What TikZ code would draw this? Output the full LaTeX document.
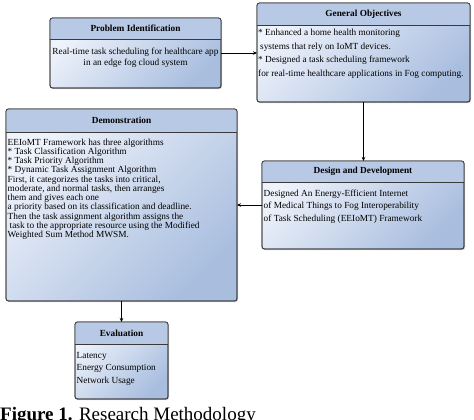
\documentclass[tikz,border=0pt]{standalone}
\usepackage{fontspec}
\setmainfont{Liberation Serif}
\usetikzlibrary{arrows.meta,shadows}
\definecolor{headc}{HTML}{B8C9E6}
\definecolor{bodyA}{HTML}{EFF3FB}
\definecolor{bodyB}{HTML}{A9BEDF}
\definecolor{edgec}{HTML}{3A3A3A}
\tikzset{
  boxsh/.style={draw=edgec, line width=0.8pt, rounded corners=2.5pt,
    top color=bodyA, bottom color=bodyB, shading angle=45,
    drop shadow={shadow xshift=1pt,shadow yshift=-1.2pt,opacity=0.35},
    inner sep=0pt, outer sep=0pt},
  boxline/.style={draw=edgec, line width=0.8pt, rounded corners=2.5pt},
  divline/.style={draw=edgec, line width=0.6pt},
  titlesty/.style={font=\fontsize{9.3}{11}\selectfont\bfseries, inner sep=0pt},
  bodysty/.style={inner sep=0pt, anchor=base west, align=left},
  arr/.style={draw=black, line width=0.55pt, -{Stealth[length=4pt,width=3.5pt]}}
}
% #1 name, #2 left, #3 top, #4 right, #5 bottom, #6 divider y, #7 title
\newcommand{\mkbox}[7]{%
  \node[boxsh, anchor=north west, minimum width={(#4-#2)*1pt}, minimum height={(#5-#3)*1pt}] (#1) at (#2,#3) {};
  \begin{scope}
    \clip[rounded corners=2.5pt] (#2,#3) rectangle (#4,#5);
    \fill[headc] (#2,#3) rectangle (#4,#6);
  \end{scope}
  \draw[boxline] (#2,#3) rectangle (#4,#5);
  \draw[divline] (#2,#6) -- (#4,#6);
  \node[titlesty] (#1-t) at ({(#2+#4)/2},{(#3+#6)/2}) {#7};
}
\begin{document}
\begin{tikzpicture}[x=1pt,y=-1pt]
\useasboundingbox (0,0) rectangle (474,420);

% note: base anchor of a multi-line node is the baseline of its last line
\mkbox{pi}{50}{18}{221}{88}{39}{Problem Identification}
\node[inner sep=0pt, anchor=base, align=center, font=\fontsize{9.3}{10.5}\selectfont] (pi-b) at (135.5,65.5)
  {Real-time task scheduling for healthcare app\\in an edge fog cloud system};

\mkbox{go}{257}{3}{470}{102}{25}{General Objectives}
\node[bodysty, font=\fontsize{9.3}{13.5}\selectfont] (go-b) at (258,76.5)
  {* Enhanced a home health monitoring\\
   \hspace{2pt}systems that rely on IoMT devices.\\
   * Designed a task scheduling framework\\
   for real-time healthcare applications in Fog computing.};

\mkbox{dd}{262}{161}{464}{249}{182}{Design and Development}
\node[bodysty, font=\fontsize{9.3}{12.5}\selectfont] (dd-b) at (263.5,221)
  {Designed An Energy-Efficient Internet\\
   of Medical Things to Fog Interoperability\\
   of Task Scheduling (EEIoMT) Framework};

\mkbox{demo}{6}{109}{237}{301}{132}{Demonstration}
\node[bodysty, font=\fontsize{9.3}{9.27}\selectfont] (demo-b) at (7.5,237.7)
  {EEIoMT Framework has three algorithms\\
   * Task Classification Algorithm\\
   * Task Priority Algorithm\\
   * Dynamic Task Assignment Algorithm\\
   First, it categorizes the tasks into critical,\\
   moderate, and normal tasks, then arranges\\
   them and gives each one\\
   a priority based on its classification and deadline.\\
   Then the task assignment algorithm assigns the\\
   \hspace{2pt}task to the appropriate resource using the Modified\\
   Weighted Sum Method MWSM.};

\mkbox{ev}{75}{322}{168}{399}{344}{Evaluation}
\node[bodysty, font=\fontsize{9.3}{12.5}\selectfont] (ev-b) at (76.5,383)
  {Latency\\Energy Consumption\\Network Usage};

\draw[arr] (pi.east) -- (pi.east -| go.west);
\draw[arr] (go.south) -- (go.south |- dd.north);
\draw[arr] (dd.west) -- (dd.west -| demo.east);
\draw[arr] (demo.south -| ev.north) -- (ev.north);

\node[inner sep=0pt, anchor=base west, font=\fontsize{19}{22}\selectfont] (cap) at (0,420.5)
  {\textbf{Figure 1.} Research Methodology};
\end{tikzpicture}
\end{document}
